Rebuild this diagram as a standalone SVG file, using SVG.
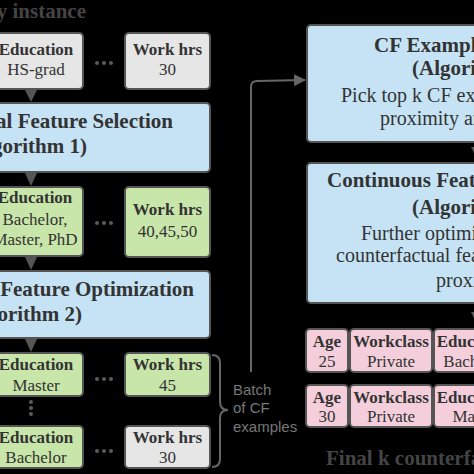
<svg xmlns="http://www.w3.org/2000/svg" width="474" height="474" viewBox="0 0 474 474">
<defs>
<style>
.bg{fill:#000}
.box{stroke:#555;stroke-width:2}
.gray{fill:#e6e6e6}
.blue{fill:#c5e3f5}
.green{fill:#c8e6a9}
.pink{fill:#f4cfdb}
.t{font-family:"Liberation Serif","Times New Roman",serif;fill:#333;text-anchor:middle}
.b{font-weight:bold}
.s17{font-size:17px}
.s20{font-size:20px}
.s21{font-size:21px}
.head{font-family:"Liberation Serif","Times New Roman",serif;font-weight:bold;font-size:21px;fill:#444}
.dot{fill:#5a5a5a}
.conn{fill:none;stroke:#666;stroke-width:2}
.tri{fill:#555}
.lbl{font-family:"Liberation Sans",Arial,sans-serif;font-size:15px;fill:#777}
</style>
<marker id="ah" viewBox="0 0 12 12" refX="11" refY="6" markerWidth="12" markerHeight="12" markerUnits="userSpaceOnUse" orient="auto">
<path d="M0,0 L12,6 L0,12 z" fill="#666"/>
</marker>
</defs>
<rect class="bg" x="0" y="0" width="474" height="474"/>

<text class="head" x="86" y="18" text-anchor="end">Query instance</text>
<text class="head" x="326" y="465">Final k counterfactuals</text>

<g id="query-education">
<rect class="box gray" x="-12" y="33" width="95" height="56" rx="4"/>
<text class="t b s17" x="36" y="55">Education</text>
<text class="t s17" x="36" y="75">HS-grad</text>
</g>
<g id="query-workhrs">
<rect class="box gray" x="125" y="33" width="85" height="56" rx="4"/>
<text class="t b s17" x="167.5" y="55">Work hrs</text>
<text class="t s17" x="167.5" y="75">30</text>
</g>

<g id="alg1">
<rect class="box blue" x="-120" y="103" width="330" height="69" rx="4"/>
<text class="t b s21" x="173" y="128" style="text-anchor:end">Categorical Feature Selection</text>
<text class="t b s21" x="87" y="153" style="text-anchor:end">(Algorithm 1)</text>
</g>

<g id="sel-education">
<rect class="box green" x="-12" y="187" width="95" height="69" rx="4"/>
<text class="t b s17" x="35" y="203">Education</text>
<text class="t s17" x="35" y="225">Bachelor,</text>
<text class="t s17" x="35" y="245">Master, PhD</text>
</g>
<g id="sel-workhrs">
<rect class="box green" x="125" y="187" width="85" height="70" rx="4"/>
<text class="t b s17" x="167.5" y="215">Work hrs</text>
<text class="t s17" x="167.5" y="237">40,45,50</text>
</g>

<g id="alg2">
<rect class="box blue" x="-120" y="271" width="330" height="67" rx="4"/>
<text class="t b s21" x="194" y="296" style="text-anchor:end">Feature Optimization</text>
<text class="t b s21" x="82" y="321" style="text-anchor:end">(Algorithm 2)</text>
</g>

<g id="cf1-education">
<rect class="box green" x="-12" y="353" width="95" height="43" rx="4"/>
<text class="t b s17" x="36" y="370">Education</text>
<text class="t s17" x="36" y="391">Master</text>
</g>
<g id="cf1-workhrs">
<rect class="box green" x="125" y="353" width="85" height="43" rx="4"/>
<text class="t b s17" x="167.5" y="370">Work hrs</text>
<text class="t s17" x="167.5" y="391">45</text>
</g>
<g id="cf2-education">
<rect class="box green" x="-12" y="426" width="95" height="42" rx="4"/>
<text class="t b s17" x="36" y="443">Education</text>
<text class="t s17" x="36" y="463">Bachelor</text>
</g>
<g id="cf2-workhrs">
<rect class="box gray" x="125" y="426" width="85" height="42" rx="4"/>
<text class="t b s17" x="167.5" y="443">Work hrs</text>
<text class="t s17" x="167.5" y="463">30</text>
</g>

<g id="ellipses">
<circle class="dot" cx="97" cy="63" r="2"/><circle class="dot" cx="104" cy="63" r="2"/><circle class="dot" cx="111" cy="63" r="2"/>
<circle class="dot" cx="97" cy="223" r="2"/><circle class="dot" cx="104" cy="223" r="2"/><circle class="dot" cx="111" cy="223" r="2"/>
<circle class="dot" cx="97" cy="379" r="2"/><circle class="dot" cx="104" cy="379" r="2"/><circle class="dot" cx="111" cy="379" r="2"/>
<circle class="dot" cx="97" cy="451" r="2"/><circle class="dot" cx="104" cy="451" r="2"/><circle class="dot" cx="111" cy="451" r="2"/>
<circle class="dot" cx="31" cy="402" r="2"/><circle class="dot" cx="31" cy="408" r="2"/><circle class="dot" cx="31" cy="414" r="2"/>
</g>

<g id="batch-label">
<path class="conn" d="M212,355 Q220,355 220,363 L220,402 Q220,410 228,410 Q220,410 220,418 L220,459 Q220,467 212,467"/>
<text class="lbl" x="233" y="395">Batch</text>
<text class="lbl" x="233" y="413">of CF</text>
<text class="lbl" x="233" y="432">examples</text>
</g>

<g id="alg3">
<rect class="box blue" x="307" y="25" width="200" height="117" rx="4"/>
<text class="t b s21" x="374" y="52" style="text-anchor:start">CF Example Selection</text>
<text class="t b s21" x="412" y="75" style="text-anchor:start">(Algorithm 3)</text>
<text class="t s20" x="341" y="102" style="text-anchor:start">Pick top k CF examples using</text>
<text class="t s20" x="380" y="125" style="text-anchor:start">proximity and diversity</text>
</g>

<g id="alg4">
<rect class="box blue" x="307" y="163" width="200" height="140" rx="4"/>
<text class="t b s21" x="327" y="187" style="text-anchor:start">Continuous Feature Optimization</text>
<text class="t b s21" x="412" y="214" style="text-anchor:start">(Algorithm 4)</text>
<text class="t s20" x="361" y="240" style="text-anchor:start">Further optimize the</text>
<text class="t s20" x="336" y="262" style="text-anchor:start">counterfactual features for</text>
<text class="t s20" x="436" y="287" style="text-anchor:start">proximity</text>
</g>

<g id="final-cf1">
<rect class="box pink" x="306" y="329" width="42" height="43" rx="4"/>
<rect class="box pink" x="350" y="329" width="82" height="43" rx="4"/>
<rect class="box pink" x="434" y="329" width="80" height="43" rx="4"/>
<text class="t b s17" x="327" y="347">Age</text>
<text class="t s17" x="327" y="367">25</text>
<text class="t b s17" x="391" y="347">Workclass</text>
<text class="t s17" x="391" y="367">Private</text>
<text class="t b s17" x="474" y="347">Education</text>
<text class="t s17" x="474" y="367">Bachelor</text>
</g>
<g id="final-cf2">
<rect class="box pink" x="306" y="385" width="42" height="42" rx="4"/>
<rect class="box pink" x="350" y="385" width="82" height="42" rx="4"/>
<rect class="box pink" x="434" y="385" width="80" height="42" rx="4"/>
<text class="t b s17" x="327" y="403">Age</text>
<text class="t s17" x="327" y="422">30</text>
<text class="t b s17" x="391" y="403">Workclass</text>
<text class="t s17" x="391" y="422">Private</text>
<text class="t b s17" x="474" y="403">Education</text>
<text class="t s17" x="476" y="422">Master</text>
</g>

<g id="connectors">
<path class="tri" d="M25,90 L37,90 L31,102 z"/>
<path class="tri" d="M25,173 L37,173 L31,186 z"/>
<path class="tri" d="M25,257 L37,257 L31,270 z"/>
<path class="tri" d="M25,339 L37,339 L31,352 z"/>
<path class="tri" d="M471,147 L485,147 L478,161 z"/>
<path class="tri" d="M471,312 L485,312 L478,327 z"/>
<path class="conn" d="M251,372 L251,87 Q251,81 257,81 L305,80" marker-end="url(#ah)"/>
</g>
</svg>
